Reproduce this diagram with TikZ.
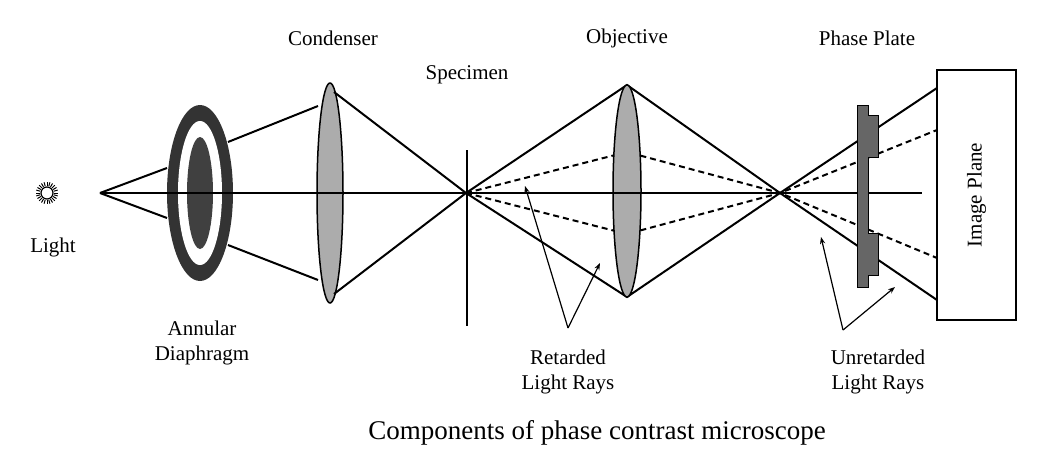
\documentclass[tikz,border=0pt]{standalone}
\usepackage{fontspec}
\setmainfont{Liberation Serif}
\usetikzlibrary{calc,arrows.meta}
\begin{document}
\begin{tikzpicture}[x=1pt,y=-1pt,
  ray/.style={line width=2pt},
  dray/.style={line width=2pt,dash pattern=on 6pt off 4pt},
  ptr/.style={line width=1.2pt,-{Stealth[length=7pt]}},
  lbl/.style={font=\fontsize{21}{25}\selectfont,align=center},
  lens/.style={draw,line width=1.5pt,fill=gray!65}]
\useasboundingbox (0,0) rectangle (1041,471);
% light
\node[circle,draw,line width=1.2pt,minimum size=12pt,inner sep=0] (sun) at (47,193) {};
\foreach \a in {0,15,...,345}{\draw[line width=1pt] ($(47,193)+(\a:7)$) -- ($(47,193)+(\a:11)$);}
\node[lbl] (light) at (53,247) {Light};
\coordinate (f0) at (100,193);
% diaphragm
\fill[black!80] (200,193) ellipse [x radius=33,y radius=88];
\fill[white] (200,193) ellipse [x radius=22,y radius=72];
\fill[black!75] (200,193) ellipse [x radius=13,y radius=56];
\node[lbl] (ad) at (202,343) {Annular\\Diaphragm};
\draw[ray] (f0) -- (167,168); \draw[ray] (f0) -- (167,218);
\draw[ray] (228,142) -- (318,106); \draw[ray] (228,245) -- (318,280);
% condenser
\draw[lens] (330,193) ellipse [x radius=13,y radius=110];
\node[lbl] (cond) at (333,38) {Condenser};
\coordinate (sp) at (466,193);
\draw[ray] (334,92) -- (sp); \draw[ray] (334,294) -- (sp);
% specimen
\draw[line width=2pt] (467,150) -- (467,326);
\node[lbl] (spec) at (467,75) {Specimen};
% objective rays
\coordinate (f2) at (780,193);
\draw[ray] (sp) -- (627,85) -- (f2) -- (937,88);
\draw[ray] (sp) -- (627,297) -- (f2) -- (937,300);
\draw[dray] (sp) -- (627,152) -- (f2) -- (937,130);
\draw[dray] (sp) -- (627,234) -- (f2) -- (937,258);
\draw[lens] (627,191) ellipse [x radius=14,y radius=106];
\node[lbl] (obj) at (627,38) {Objective};
% axis
\draw[ray] (f0) -- (922,193);
% phase plate
\draw[line width=1pt,fill=gray!80!black]
  (857,105) -- (868,105) -- (868,115) -- (878,115) -- (878,157) -- (868,157) -- (868,233) -- (878,233) -- (878,275) -- (868,275) -- (868,287) -- (857,287) -- cycle;
\node[lbl] (pp) at (867,38) {Phase Plate};
% image plane
\node[draw,line width=2pt,minimum width=79pt,minimum height=250pt,fill=white] (ip) at (976.5,195) {};
\node[lbl,rotate=90] at (ip.center) {Image Plane};
% pointers
\node[lbl] (rl) at (568,372) {Retarded\\Light Rays};
\coordinate (ra) at (568,328);
\draw[ptr] (ra) -- (525,186); \draw[ptr] (ra) -- (600,263);
\node[lbl] (ul) at (878,372) {Unretarded\\Light Rays};
\coordinate (ua) at (843,330);
\draw[ptr] (ua) -- (821,237); \draw[ptr] (ua) -- (895,287);
\node[font=\fontsize{27}{30}\selectfont] (cap) at (597,433) {Components of phase contrast microscope};
\end{tikzpicture}
\end{document}
